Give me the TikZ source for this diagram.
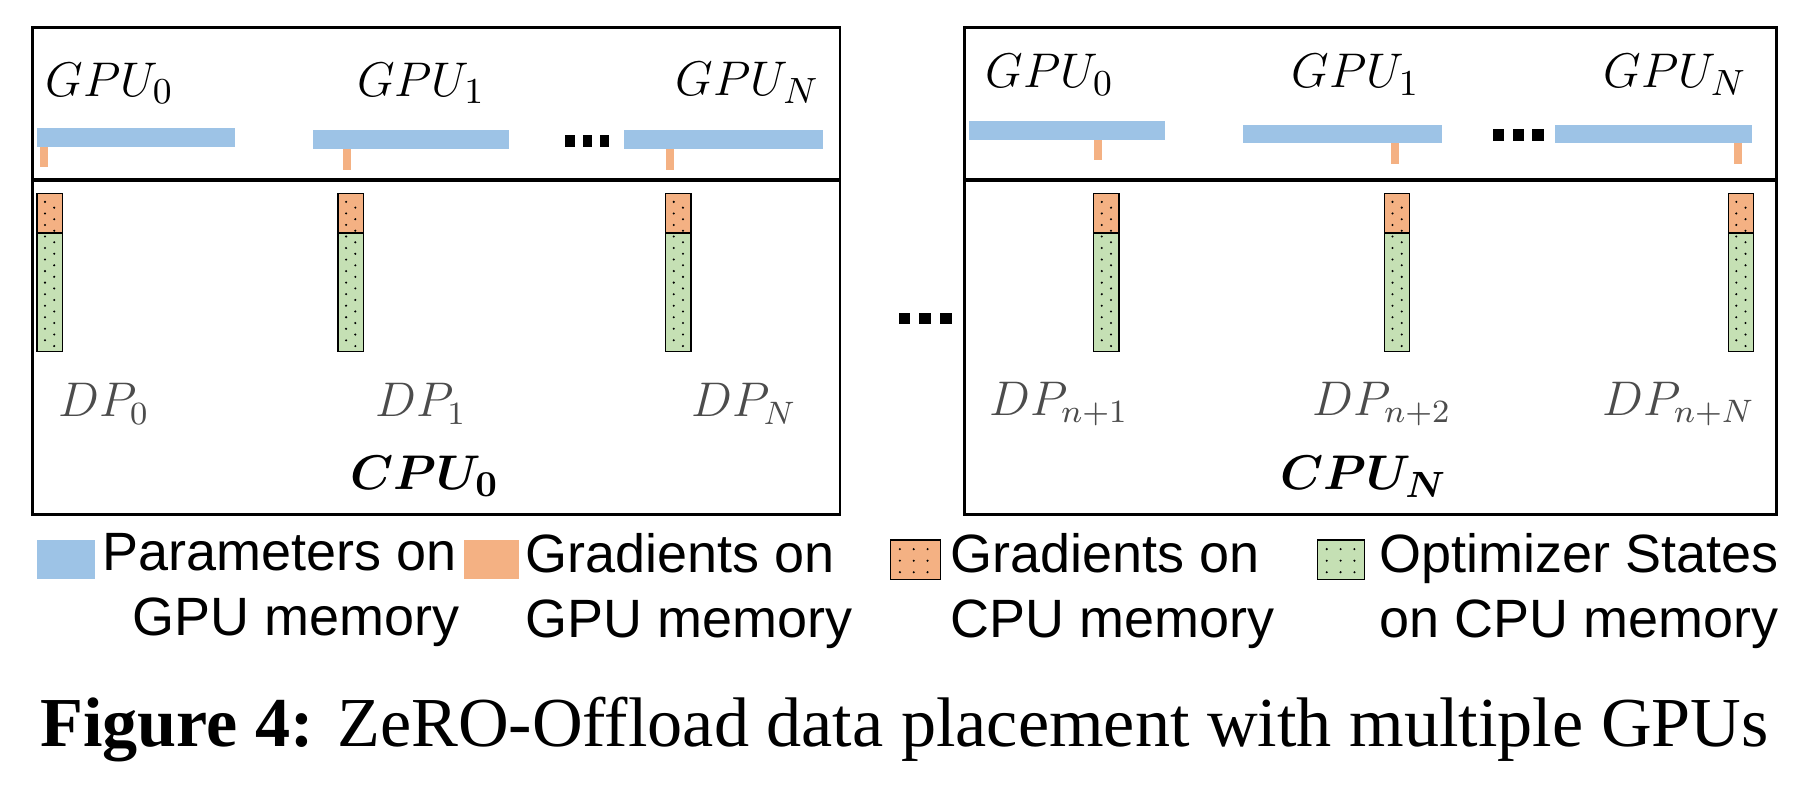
\documentclass[tikz,border=0pt]{standalone}
\usepackage{amsmath}
\usepackage{bm}
\usepackage{fontspec}
\setmainfont{Liberation Serif}
\newfontfamily\lsans{Liberation Sans}
\begin{document}
\begin{tikzpicture}[x=0.01cm,y=-0.01cm,
  box/.style={draw,line width=0.6pt},
  par/.style={fill={rgb,255:red,157;green,195;blue,230}},
  grd/.style={fill={rgb,255:red,244;green,177;blue,131}},
  dotg/.style={draw,line width=0.3pt,fill={rgb,255:red,244;green,177;blue,131}},
  dotopt/.style={draw,line width=0.3pt,fill={rgb,255:red,197;green,224;blue,180}},
  lab/.style={font=\fontsize{13}{14}\selectfont,inner sep=0},
  dp/.style={font=\fontsize{12}{14}\selectfont,text=black!70,inner sep=0},
  leg/.style={font=\lsans\fontsize{13.3}{16}\selectfont,align=left,anchor=north west,inner sep=0}]
\useasboundingbox (0,0) rectangle (1568,686);
% boxes
\draw[box] (28,24) rectangle (728,446);
\draw[box] (836,24) rectangle (1540,446);
\draw[line width=1.1pt] (28,156) -- (728,156);
\draw[line width=1.1pt] (836,156) -- (1540,156);
% GPU labels
\node[lab] (g0) at (95,72) {$GPU_0$};
\node[lab] (g1) at (365,72) {$GPU_1$};
\node[lab] (gN) at (648,72) {$GPU_N$};
\node[lab] (h0) at (910,65) {$GPU_0$};
\node[lab] (h1) at (1175,65) {$GPU_1$};
\node[lab] (hN) at (1452,65) {$GPU_N$};
% blue bars & orange stubs
\foreach \a/\b/\y/\o in {32/204/111/35, 271/441/113/297, 541/713/113/577, 840/1010/105/948, 1077/1250/108/1206, 1348/1519/108/1503}{
  \fill[par] (\a,\y) rectangle (\b,\y+16);
  \fill[grd] (\o,\y+16) rectangle (\o+7,\y+34);
}
% dots
\foreach \x in {490,505,520}{\fill (\x,117) rectangle (\x+8,127);}
\foreach \x in {1294,1311,1328}{\fill (\x,112) rectangle (\x+10,122);}
\foreach \x in {779,797,815}{\fill (\x,271) rectangle (\x+10,281);}
% CPU columns
\foreach \c in {32,293,577,948,1200,1498}{
  \draw[dotg] (\c,168) rectangle (\c+22,202);
  \draw[dotopt] (\c,202) rectangle (\c+22,305);
  \foreach \yy in {175,185,...,300}{
    \fill (\c+7,\yy) circle (1);
    \fill (\c+15,\yy+5) circle (1);
  }
}
% DP labels
\node[dp] (d0) at (90,350) {$DP_0$};
\node[dp] (d1) at (365,350) {$DP_1$};
\node[dp] (dN) at (645,350) {$DP_N$};
\node[dp] (e1) at (918,350) {$DP_{n+1}$};
\node[dp] (e2) at (1198,350) {$DP_{n+2}$};
\node[dp] (eN) at (1455,350) {$DP_{n+N}$};
\node[lab] (c0) at (368,413) {$\bm{CPU_0}$};
\node[lab] (cN) at (1182,413) {$\bm{CPU_N}$};
% legend
\fill[par] (32,468) rectangle (82,502);
\node[leg] (l1) at (88,462) {Parameters on\\\ \ GPU memory};
\fill[grd] (402,468) rectangle (450,502);
\node[leg] (l2) at (455,462) {Gradients on\\GPU memory};
\draw[dotg] (772,468) rectangle (815,502);
\foreach \xx in {780,792,804}{\foreach \yy in {476,486,496}{\fill (\xx,\yy) circle (1);}}
\node[leg] (l3) at (823,462) {Gradients on\\CPU memory};
\draw[dotopt] (1142,468) rectangle (1183,502);
\foreach \xx in {1150,1162,1174}{\foreach \yy in {476,486,496}{\fill (\xx,\yy) circle (1);}}
\node[leg] (l4) at (1195,462) {Optimizer States\\on CPU memory};
% caption
\node[font=\fontsize{17.3}{19}\selectfont,inner sep=0] (cap) at (784,632) {\textbf{Figure 4:} ZeRO-Offload data placement with multiple GPUs};
\end{tikzpicture}
\end{document}
